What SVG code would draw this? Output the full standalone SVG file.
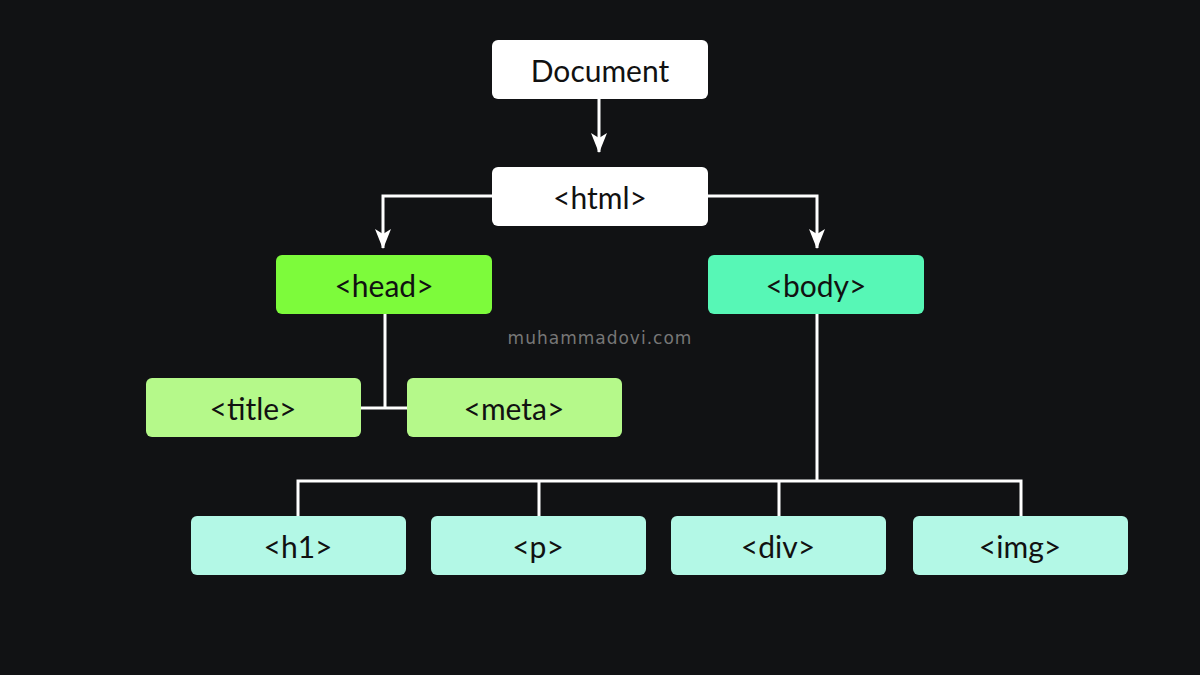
<svg xmlns="http://www.w3.org/2000/svg" width="1200" height="675" viewBox="0 0 1200 675">
<style>
text{font-family:"Lato","Open Sans",sans-serif;font-size:30px;fill:#111;text-anchor:middle;dominant-baseline:central}
.c{stroke:#fff;stroke-width:3;fill:none}
</style>
<defs><marker id="a" viewBox="0 0 10 10" refX="9" refY="5" markerWidth="7" markerHeight="7" orient="auto" markerUnits="userSpaceOnUse" ><path d="M0,0L10,5L0,10L3,5Z" fill="#fff"/></marker>
<marker id="b" viewBox="0 0 20 16" refX="19" refY="8" markerWidth="20" markerHeight="16" orient="auto" markerUnits="userSpaceOnUse"><path d="M0,0L20,8L0,16L5,8Z" fill="#fff"/></marker></defs>
<rect width="1200" height="675" fill="#111214"/>
<text x="600" y="338" style="font-size:17px;fill:#777;font-family:'DejaVu Sans',sans-serif;letter-spacing:1px">muhammadovi.com</text>
<g id="connectors">
<path class="c" d="M599 99V152" stroke-width="2" marker-end="url(#b)"/>
<path class="c" d="M492 196H383V248" stroke-width="2" marker-end="url(#b)"/>
<path class="c" d="M708 196H817V248" stroke-width="2" marker-end="url(#b)"/>
<path class="c" d="M385 314V408M361 408H407"/>
<path class="c" d="M817 314V481M298 516V481H1021V516M539 481V516M779 481V516"/>
</g>
<g id="document"><rect x="492" y="40" width="216" height="59" rx="6" fill="#fff"/><text x="600" y="70">Document</text></g>
<g id="html"><rect x="492" y="167" width="216" height="59" rx="6" fill="#fff"/><text x="600" y="197">&lt;html&gt;</text></g>
<g id="head"><rect x="276" y="255" width="216" height="59" rx="6" fill="#7dfb3b"/><text x="384" y="285">&lt;head&gt;</text></g>
<g id="body"><rect x="708" y="255" width="216" height="59" rx="6" fill="#57f7b6"/><text x="816" y="285">&lt;body&gt;</text></g>
<g id="title"><rect x="146" y="378" width="215" height="59" rx="6" fill="#b5f98a"/><text x="253" y="408">&lt;title&gt;</text></g>
<g id="meta"><rect x="407" y="378" width="215" height="59" rx="6" fill="#b5f98a"/><text x="514" y="408">&lt;meta&gt;</text></g>
<g id="h1"><rect x="191" y="516" width="215" height="59" rx="6" fill="#b3f8e6"/><text x="298" y="546">&lt;h1&gt;</text></g>
<g id="p"><rect x="431" y="516" width="215" height="59" rx="6" fill="#b3f8e6"/><text x="538" y="546">&lt;p&gt;</text></g>
<g id="div"><rect x="671" y="516" width="215" height="59" rx="6" fill="#b3f8e6"/><text x="778" y="546">&lt;div&gt;</text></g>
<g id="img"><rect x="913" y="516" width="215" height="59" rx="6" fill="#b3f8e6"/><text x="1020" y="546">&lt;img&gt;</text></g>
</svg>
